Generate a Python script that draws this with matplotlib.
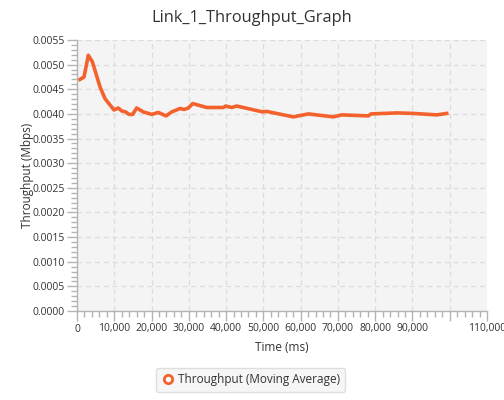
import matplotlib.pyplot as plt
from matplotlib.ticker import MultipleLocator, FuncFormatter
from matplotlib.lines import Line2D

plt.rcParams['font.family'] = ['Open Sans', 'DejaVu Sans']

# moving-average throughput
time_ms = [805, 1880, 3040, 4110, 6170, 7510, 9930, 11080, 11990, 13060, 13950, 14940,
           16010, 17800, 20040, 21820, 23880, 25410, 27640, 28710, 29870, 31040, 34800,
           39250, 39890, 41500, 42850, 49820, 50900, 58040, 62060, 68770, 71000, 78150,
           78880, 85780, 90230, 96510, 99190]
throughput = [0.00470, 0.00475, 0.00519, 0.00506, 0.00455, 0.00431, 0.00408, 0.00412,
              0.00406, 0.00404, 0.00399, 0.00399, 0.00412, 0.00404, 0.00399, 0.00403,
              0.00396, 0.00404, 0.00411, 0.00409, 0.00412, 0.00421, 0.00413, 0.00413,
              0.00416, 0.00413, 0.00416, 0.00404, 0.00405, 0.00394, 0.00400, 0.00394,
              0.00398, 0.00396, 0.00400, 0.00402, 0.00401, 0.00398, 0.00401]

line_color = '#f3622d'
axis_color = '#b4b4b4'
text_color = '#333333'

fig = plt.figure(figsize=(5.04, 4.0), dpi=100)
ax = fig.add_axes([77 / 504, 1 - 311 / 400, 410 / 504, 271 / 400])
ax.set_facecolor('#f4f4f4')

ax.plot(time_ms, throughput, color=line_color, linewidth=2.6, solid_joinstyle='round')

ax.set_xlim(0, 110000)
ax.set_ylim(0, 0.0055)
ax.xaxis.set_major_locator(MultipleLocator(10000))
ax.xaxis.set_minor_locator(MultipleLocator(2000))
ax.yaxis.set_major_locator(MultipleLocator(0.0005))
ax.yaxis.set_minor_locator(MultipleLocator(0.0001))


def fmt_x(v, pos):
    if abs(v - 100000) < 1:
        return ''  # label hidden in the original (overlaps)
    return f'{int(round(v)):,}'


ax.xaxis.set_major_formatter(FuncFormatter(fmt_x))
ax.yaxis.set_major_formatter(FuncFormatter(lambda v, p: f'{v:.4f}'))

ax.grid(True, which='major', color='#dcdcdc', linestyle=(0, (4, 3)), linewidth=0.9)
ax.set_axisbelow(True)

for side in ['top', 'right']:
    ax.spines[side].set_visible(False)
for side in ['left', 'bottom']:
    ax.spines[side].set_color(axis_color)
    ax.spines[side].set_linewidth(1.0)

ax.tick_params(which='major', length=7, width=1, color=axis_color, labelsize=7.5,
               labelcolor=text_color, pad=2)
ax.tick_params(which='minor', length=4, width=1, color=axis_color)

ax.set_xlabel('Time (ms)', fontsize=8.5, color=text_color, labelpad=5)
ax.set_ylabel('Throughput (Mbps)', fontsize=8.5, color=text_color)
ax.yaxis.set_label_coords(-0.106, 0.5)
fig.text(0.5, 0.955, 'Link_1_Throughput_Graph', ha='center', va='center',
         fontsize=11.8, color=text_color)

handle = Line2D([], [], color=line_color, marker='o', linestyle='none', markersize=6,
                markerfacecolor='white', markeredgewidth=2)
leg = fig.legend([handle], ['Throughput (Moving Average)'], loc='center',
                 bbox_to_anchor=(0.497, 0.05), fontsize=8.5, frameon=True,
                 handletextpad=0.2, borderpad=0.45, handlelength=1.2, fancybox=True)
leg.get_frame().set_facecolor('#f4f4f4')
leg.get_frame().set_edgecolor('#d8d8d8')
for t in leg.get_texts():
    t.set_color(text_color)

fig.savefig('out.png', dpi=100)
